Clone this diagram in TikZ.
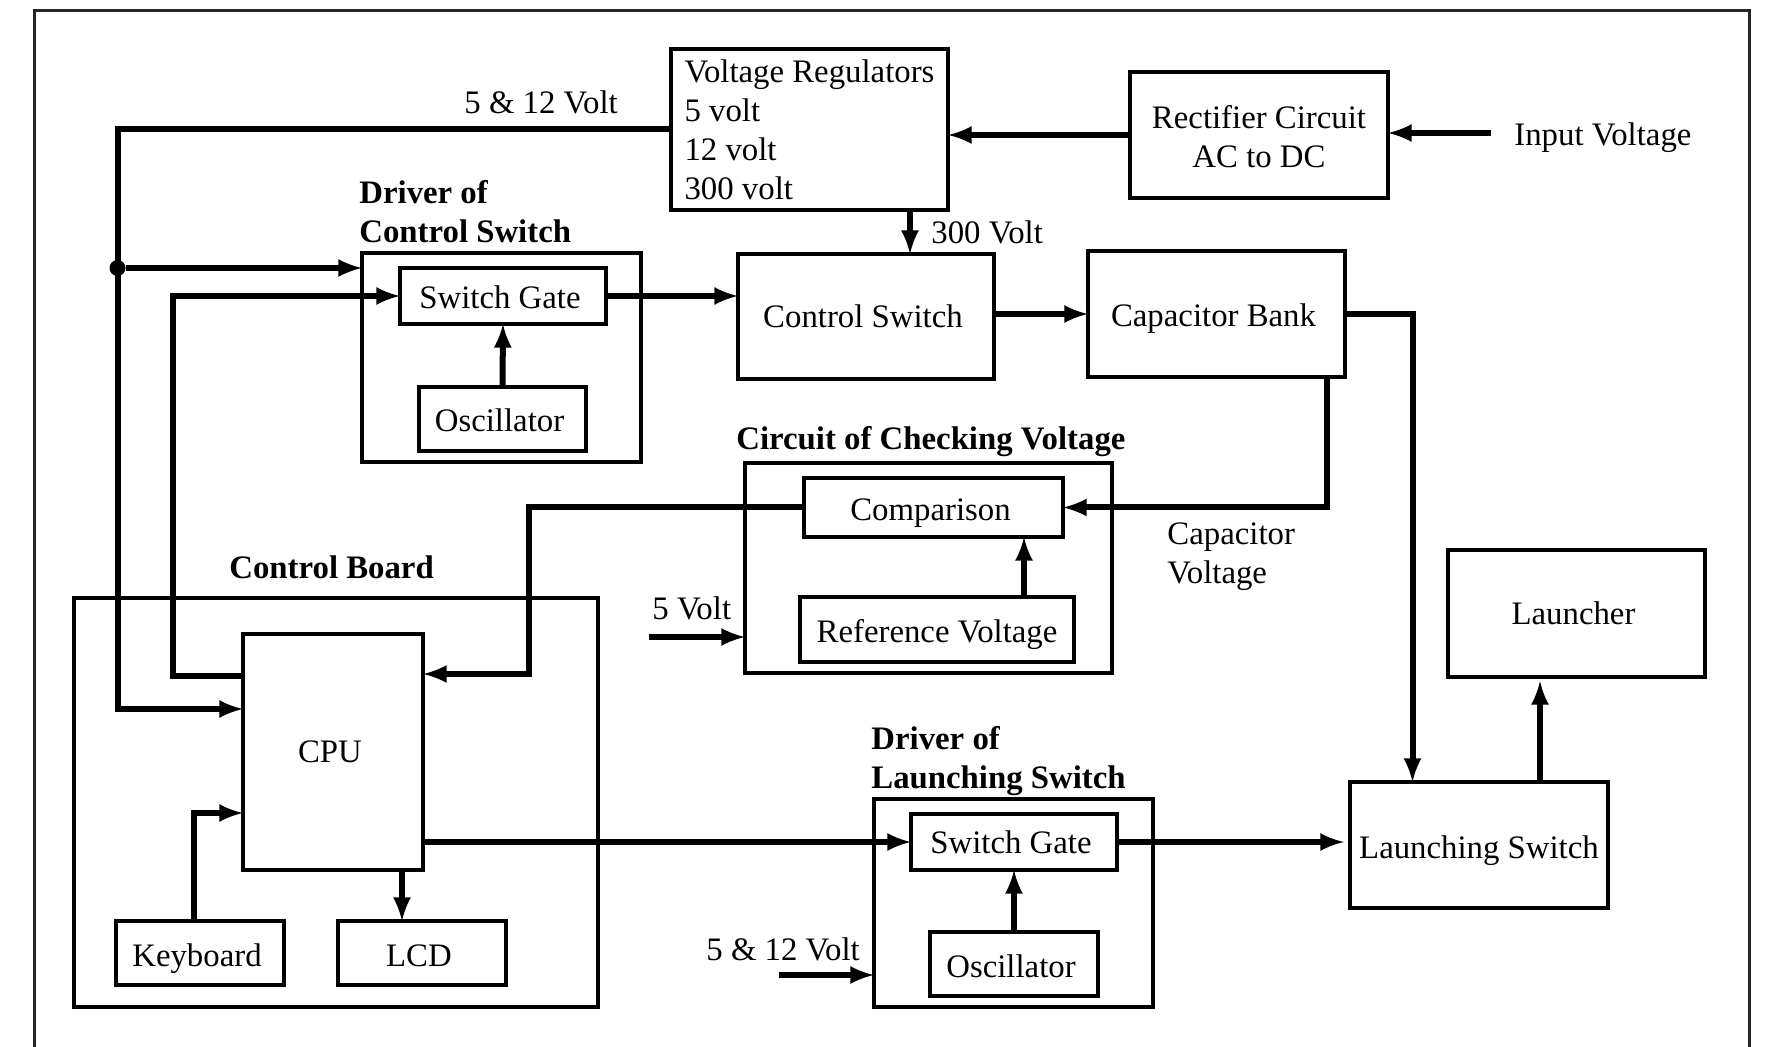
\documentclass[tikz,border=0pt]{standalone}
\usepackage{fontspec}
\setmainfont{Liberation Serif}
\usetikzlibrary{calc}
\tikzset{
  blk/.style={draw,line width=1.7pt,inner sep=0pt,outer sep=0pt},
  low/.style={text height=13pt,text depth=0pt},
  lft/.style={execute at end node={\kern 3pt}},
  lab/.style={anchor=west,inner sep=0pt,align=left},
  hd/.style={lab,font=\fontsize{16.4}{19.5}\selectfont\bfseries},
  wire/.style={line width=3pt},
  dot/.style={circle,fill=black,inner sep=0pt,minimum size=8pt},
}
\begin{document}
\begin{tikzpicture}[x=0.5pt,y=-0.5pt,font=\fontsize{16.4}{19.5}\selectfont]
    \useasboundingbox (0,0) rectangle (1772,1047);
    \draw [line width=1.5pt,black!85] (34,1047) -- (34,11) -- (1749,11) -- (1749,1047);
    % blocks
    \node [blk,align=left,minimum width=138.5pt,minimum height=80.5pt] (regs) at (809.5,129.5)
      {Voltage Regulators\\5 volt\\12 volt\\300 volt};
    \node [blk,align=center,text height=33pt,text depth=0pt,minimum width=129pt,minimum height=63pt] (rect) at (1259,135)
      {Rectifier Circuit\\AC to DC};
    \node [blk,minimum width=139.5pt,minimum height=104.5pt] (drv1) at (501.5,357.5) {};
    \node [blk,low,lft,minimum width=103pt,minimum height=28pt] (gate1) at (503,296) {Switch Gate};
    \node [blk,low,lft,minimum width=83.5pt,minimum height=32pt] (osc1) at (502.5,419) {Oscillator};
    \node [blk,lft,minimum width=128pt,minimum height=62.5pt] (ctrl) at (866,316.5) {Control Switch};
    \node [blk,low,lft,minimum width=128.5pt,minimum height=63pt] (bank) at (1216.5,314) {Capacitor Bank};
    \node [blk,minimum width=183.5pt,minimum height=105pt] (chk) at (928.5,568) {};
    \node [blk,low,lft,minimum width=129.5pt,minimum height=29.5pt] (comp) at (933.5,507.5) {Comparison};
    \node [blk,low,minimum width=137pt,minimum height=32.5pt] (ref) at (937,629.5) {Reference Voltage};
    \node [blk,minimum width=262pt,minimum height=204.5pt] (board) at (336,802.5) {};
    \node [blk,lft,minimum width=90pt,minimum height=118pt] (cpu) at (333,752) {CPU};
    \node [blk,low,lft,minimum width=84pt,minimum height=32pt] (kbd) at (200,953) {Keyboard};
    \node [blk,low,lft,minimum width=84pt,minimum height=32pt] (lcd) at (422,953) {LCD};
    \node [blk,minimum width=139.5pt,minimum height=104pt] (drv2) at (1013.5,903) {};
    \node [blk,lft,minimum width=103pt,minimum height=28pt] (gate2) at (1014,842) {Switch Gate};
    \node [blk,low,lft,minimum width=84pt,minimum height=32pt] (osc2) at (1014,964) {Oscillator};
    \node [blk,low,minimum width=129pt,minimum height=63pt] (ls) at (1479,845) {Launching Switch};
    \node [blk,lft,minimum width=128.5pt,minimum height=63.5pt] (launcher) at (1576.5,613.5) {Launcher};
    % texts
    \node [lab] (t512a) at (464,102) {5 \& 12 Volt};
    \node [lab] (t300) at (931,232) {300 Volt};
    \node [lab] (tin) at (1514,138) {Input Voltage};
    \node [lab] (tcap) at (1167,557) {Capacitor\\Voltage};
    \node [lab] (t5) at (652,608) {5 Volt};
    \node [lab] (t512b) at (706,949) {5 \& 12 Volt};
    \node [hd] (hdrv1) at (359,212) {Driver of\\Control Switch};
    \node [hd] (hchk) at (736,442) {Circuit of Checking Voltage};
    \node [hd] (hboard) at (229,567) {Control Board};
    \node [hd] (hdrv2) at (871,761) {Driver of\\Launching Switch};
    % free ends and bends
    \node [dot] (jct) at (117.5,268) {};
    \coordinate (Cin) at (1490.5,133);
    \coordinate (Cpw) at (117.5,709);
    \coordinate (Cfb) at (173,676);
    \coordinate (Ccmp) at (529,674);
    \coordinate (Cdn) at (1327,507.5);
    \coordinate (Cls) at (1412.5,314);
    \coordinate (Ckbd) at (194,813);
    \coordinate (Clcd) at (402,870);
    \coordinate (C300) at (910,210);
    \coordinate (Cref) at (1024,597);
    \coordinate (Claun) at (1540,782);
    \coordinate (Cv5) at (648.6,637);
    \coordinate (Cv12) at (778.5,975);
    % connectors
    \draw [wire,-latex] (Cin) -- (rect.east |- Cin);
    \draw [wire,-latex] (rect.west) -- (regs.east |- rect.west);
    \draw [wire,-latex] (regs.south -| C300) -- (ctrl.north -| C300);
    \draw [wire,-latex] (regs.west) -- (jct |- regs.west) -- (Cpw) -- (cpu.west |- Cpw);
    \draw [wire,-latex] (jct) -- (drv1.west |- jct);
    \draw [wire,-latex] (cpu.west |- Cfb) -- (Cfb) -- (Cfb |- gate1.west) -- (gate1.west);
    \draw [wire,-latex] (gate1.east) -- (ctrl.west |- gate1.east);
    \draw [wire,-latex] (osc1.north) -- (gate1.south);
    \draw [wire,-latex] (ctrl.east |- bank.west) -- (bank.west);
    \draw [wire,-latex] (bank.east) -- (Cls) -- (Cls |- ls.north);
    \draw [wire,-latex] (Cdn |- bank.south) -- (Cdn) -- (comp.east);
    \draw [wire,-latex] (Cref) -- (comp.south -| Cref);
    \draw [wire,-latex] (comp.west) -- (Ccmp |- comp.west) -- (Ccmp) -- (cpu.east |- Ccmp);
    \draw [wire,-latex] (Cv5) -- (chk.west |- Cv5);
    \draw [wire,-latex] (kbd.north -| Ckbd) -- (Ckbd) -- (cpu.west |- Ckbd);
    \draw [wire,-latex] (Clcd) -- (lcd.north -| Clcd);
    \draw [wire,-latex] (cpu.east |- gate2.west) -- (gate2.west);
    \draw [wire,-latex] (osc2.north) -- (gate2.south);
    \draw [wire,-latex] (Cv12) -- (drv2.west |- Cv12);
    \draw [wire,-latex,shorten >=3pt] (gate2.east) -- (ls.west |- gate2.east);
    \draw [wire,-latex,shorten >=2pt] (Claun) -- (launcher.south -| Claun);
\end{tikzpicture}
\end{document}
